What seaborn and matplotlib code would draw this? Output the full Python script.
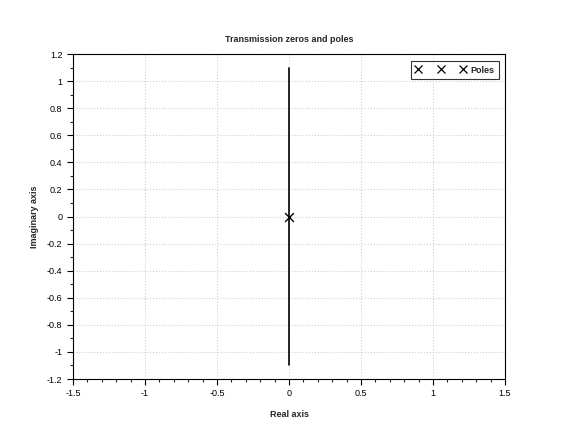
import numpy as np
import pandas as pd
import matplotlib
matplotlib.use("Agg")
import matplotlib.pyplot as plt
import seaborn as sns
from matplotlib.ticker import MultipleLocator, FuncFormatter
from matplotlib.lines import Line2D

# data
pole_re = [0.0]
pole_im = [0.0]
axis_x = [0.0, 0.0]
axis_y = [-1.1, 1.1]

x_ticks = [-1.5, -1, -0.5, 0, 0.5, 1, 1.5]
y_ticks = [-1.2, -1, -0.8, -0.6, -0.4, -0.2, 0, 0.2, 0.4, 0.6, 0.8, 1, 1.2]

sns.set_style("white")
plt.rcParams["font.family"] = ["Liberation Sans", "DejaVu Sans"]

fig = plt.figure(figsize=(5.76, 4.34), dpi=100)
ax = fig.add_axes([73 / 576, 1 - 379 / 434, (505 - 73) / 576, (379 - 54) / 434])

line_df = pd.DataFrame({"re": axis_x, "im": axis_y})
sns.lineplot(data=line_df, x="re", y="im", sort=False, estimator=None,
             color="black", linewidth=1.2, ax=ax)

pole_df = pd.DataFrame({"re": pole_re, "im": pole_im})
sns.scatterplot(data=pole_df, x="re", y="im", marker="x", s=40,
                color="black", linewidth=1.0, ax=ax, zorder=5)

ax.set_xlim(-1.5, 1.5)
ax.set_ylim(-1.2, 1.2)
ax.set_xticks(x_ticks)
ax.set_yticks(y_ticks)
ax.xaxis.set_minor_locator(MultipleLocator(0.1))
ax.yaxis.set_minor_locator(MultipleLocator(0.1))
fmt = FuncFormatter(lambda v, p: "%g" % round(v, 2))
ax.xaxis.set_major_formatter(fmt)
ax.yaxis.set_major_formatter(fmt)

ax.grid(True, which="major", color="#d0d0d0", linestyle=":", linewidth=0.8)
ax.tick_params(which="major", direction="out", length=4, width=0.8,
               labelsize=6.5, colors="black", bottom=True, left=True,
               top=False, right=False)
ax.tick_params(which="minor", direction="out", length=2, width=0.8,
               bottom=True, left=True, top=False, right=False)
for s in ax.spines.values():
    s.set_color("black")
    s.set_linewidth(0.8)

ax.set_title("Transmission zeros and poles", fontsize=6.5, fontweight="bold", pad=9)
ax.set_xlabel("Real axis", fontsize=6.5, fontweight="bold", labelpad=8)
ax.set_ylabel("Imaginary axis", fontsize=6.5, fontweight="bold", labelpad=6)

h = Line2D([], [], marker="x", linestyle="none", color="black",
           markersize=6, markeredgewidth=0.9)
leg = ax.legend([h], ["Poles"], loc="upper right", numpoints=3,
                bbox_to_anchor=(499 / 576, 1 - 61 / 434),
                bbox_transform=fig.transFigure, borderaxespad=0,
                handlelength=5.6, handletextpad=0.5, fontsize=6.5,
                frameon=True, fancybox=False, borderpad=0.5)
leg.get_frame().set_edgecolor("black")
leg.get_frame().set_linewidth(0.8)
for t in leg.get_texts():
    t.set_fontweight("bold")

fig.savefig("out.png", dpi=100)
